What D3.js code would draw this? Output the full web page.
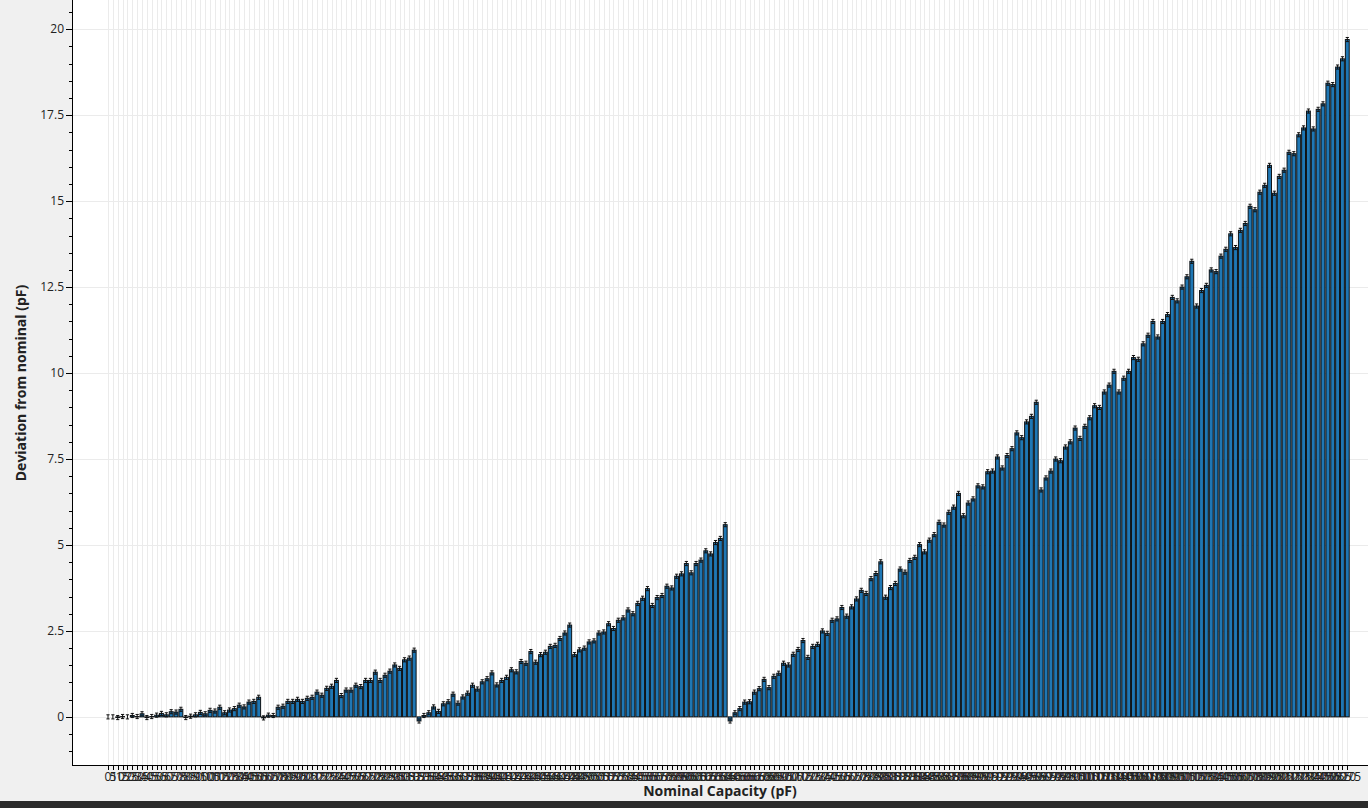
<!DOCTYPE html>
<html>
<head>
<meta charset="utf-8">
<script src="https://cdn.jsdelivr.net/npm/d3@7"></script>
<style>
  html, body { margin: 0; padding: 0; background: #f0f0f0; }
  svg { display: block; }
  text { font-family: "Open Sans", "Noto Sans", sans-serif; }
</style>
</head>
<body>
<svg id="chart"></svg>
<script>
// nominal capacity for each code (pF)
var capacities = d3.range(0, 1280, 5);

// measured deviation from nominal (pF), one block per binary segment
var seg1 = [0, 0, -0.02, 0.01, 0, 0.04, 0.01, 0.09, -0.02, 0.01, 0.05, 0.1, 0.06, 0.15, 0.14, 0.22,
  -0.02, 0.02, 0.06, 0.13, 0.09, 0.19, 0.17, 0.28, 0.12, 0.2, 0.24, 0.34, 0.29, 0.43, 0.45, 0.57];
var seg2 = [-0.03, 0.05, 0.04, 0.28, 0.31, 0.45, 0.45, 0.51, 0.45, 0.54, 0.57, 0.72, 0.63, 0.83, 0.89, 1.06,
  0.62, 0.78, 0.78, 0.92, 0.88, 1.06, 1.06, 1.3, 1.06, 1.21, 1.33, 1.51, 1.41, 1.66, 1.71, 1.94];
var seg3 = [-0.12, 0.04, 0.12, 0.29, 0.16, 0.38, 0.44, 0.66, 0.4, 0.58, 0.69, 0.92, 0.81, 1.02, 1.11, 1.28,
  0.93, 1.06, 1.15, 1.37, 1.31, 1.61, 1.56, 1.9, 1.59, 1.81, 1.88, 2.05, 2.08, 2.28, 2.44, 2.67,
  1.81, 1.95, 2.0, 2.18, 2.21, 2.44, 2.47, 2.71, 2.57, 2.81, 2.88, 3.11, 3.0, 3.3, 3.45, 3.73,
  3.24, 3.47, 3.53, 3.8, 3.75, 4.09, 4.16, 4.46, 4.19, 4.46, 4.56, 4.83, 4.74, 5.07, 5.19, 5.59];
var seg4 = [-0.12, 0.12, 0.24, 0.43, 0.44, 0.72, 0.82, 1.09, 0.85, 1.18, 1.27, 1.56, 1.51, 1.82, 1.96, 2.22,
  1.73, 2.05, 2.11, 2.5, 2.43, 2.81, 2.85, 3.18, 2.93, 3.2, 3.43, 3.68, 3.59, 4.02, 4.17, 4.51,
  3.48, 3.76, 3.88, 4.3, 4.21, 4.55, 4.64, 5.01, 4.8, 5.14, 5.3, 5.66, 5.58, 5.95, 6.1, 6.5,
  5.85, 6.22, 6.34, 6.72, 6.69, 7.13, 7.15, 7.56, 7.24, 7.6, 7.8, 8.26, 8.12, 8.58, 8.74, 9.15,
  6.6, 6.95, 7.15, 7.5, 7.45, 7.85, 8.0, 8.4, 8.1, 8.45, 8.7, 9.05, 9.0, 9.45, 9.65, 10.05,
  9.45, 9.85, 10.05, 10.45, 10.4, 10.85, 11.1, 11.5, 11.05, 11.5, 11.7, 12.2, 12.1, 12.5, 12.8, 13.25,
  11.95, 12.4, 12.55, 13.0, 12.95, 13.4, 13.6, 14.05, 13.65, 14.15, 14.35, 14.85, 14.75, 15.26, 15.46, 16.04,
  15.23, 15.72, 15.9, 16.42, 16.38, 16.93, 17.13, 17.62, 17.1, 17.67, 17.83, 18.43, 18.39, 18.9, 19.14, 19.7];
var deviations = seg1.concat(seg2, seg3, seg4);
var errHalf = 0.06;

var yTicks = [0, 2.5, 5, 7.5, 10, 12.5, 15, 17.5, 20];

var W = 1368, H = 808;
var plot = {left: 72, right: 1368, top: 0, bottom: 765};

var svg = d3.select('#chart').attr('width', W).attr('height', H);

// backgrounds
svg.append('rect').attr('width', W).attr('height', H).attr('fill', '#f0f0f0');
svg.append('rect')
  .attr('x', plot.left).attr('y', plot.top)
  .attr('width', plot.right - plot.left).attr('height', plot.bottom - plot.top)
  .attr('fill', '#fff');
svg.append('rect').attr('x', 0).attr('y', 801).attr('width', W).attr('height', 7).attr('fill', '#2b2b2b');

var data = capacities.map(function (c, i) { return {cap: c, dev: deviations[i]}; });

var x = d3.scaleBand()
  .domain(capacities)
  .range([105.57, 105.57 + 4.86 * capacities.length])
  .paddingInner(0.2)
  .paddingOuter(0.1);

var y = d3.scaleLinear().domain([-1.4, 20.85]).range([plot.bottom, plot.top]);

// grid
var grid = svg.append('g');
grid.selectAll('line.vg')
  .data(capacities)
  .enter().append('line')
  .attr('class', 'vg')
  .attr('x1', function (d) { return Math.round(x(d) + x.bandwidth() / 2) + 0.5; })
  .attr('x2', function (d) { return Math.round(x(d) + x.bandwidth() / 2) + 0.5; })
  .attr('y1', plot.top).attr('y2', plot.bottom)
  .attr('stroke', '#ebebeb').attr('stroke-width', 1);
grid.selectAll('line.hg')
  .data(yTicks)
  .enter().append('line')
  .attr('class', 'hg')
  .attr('x1', plot.left).attr('x2', plot.right)
  .attr('y1', function (d) { return Math.round(y(d)) + 0.5; })
  .attr('y2', function (d) { return Math.round(y(d)) + 0.5; })
  .attr('stroke', '#ebebeb').attr('stroke-width', 1);

// bars
svg.append('g').selectAll('rect')
  .data(data)
  .enter().append('rect')
  .attr('x', function (d) { return x(d.cap); })
  .attr('width', x.bandwidth())
  .attr('y', function (d) { return Math.min(y(d.dev), y(0)); })
  .attr('height', function (d) { return Math.abs(y(d.dev) - y(0)); })
  .attr('fill', '#1f77b4')
  .attr('stroke', '#000')
  .attr('stroke-opacity', 0.9)
  .attr('stroke-width', 1);

// error bars
var eb = svg.append('g').attr('stroke', '#111').attr('stroke-width', 1);
data.forEach(function (d) {
  var cx = x(d.cap) + x.bandwidth() / 2;
  var y1 = y(d.dev + errHalf), y2 = y(d.dev - errHalf);
  eb.append('line').attr('x1', cx).attr('x2', cx).attr('y1', y1).attr('y2', y2);
  eb.append('line').attr('x1', cx - 1.6).attr('x2', cx + 1.6).attr('y1', y1).attr('y2', y1);
  eb.append('line').attr('x1', cx - 1.6).attr('x2', cx + 1.6).attr('y1', y2).attr('y2', y2);
});

// y axis
var yAxis = svg.append('g').attr('transform', 'translate(' + plot.left + ',0)');
yAxis.append('line').attr('x1', 0.5).attr('x2', 0.5).attr('y1', plot.top).attr('y2', plot.bottom)
  .attr('stroke', '#000');
var minor = d3.range(-1, 20.9, 0.5).filter(function (v) { return yTicks.indexOf(v) < 0; });
yAxis.selectAll('line.minor').data(minor).enter().append('line')
  .attr('x1', -3).attr('x2', 0)
  .attr('y1', function (d) { return Math.round(y(d)) + 0.5; })
  .attr('y2', function (d) { return Math.round(y(d)) + 0.5; })
  .attr('stroke', '#000');
yAxis.selectAll('line.major').data(yTicks).enter().append('line')
  .attr('x1', -6).attr('x2', 0)
  .attr('y1', function (d) { return Math.round(y(d)) + 0.5; })
  .attr('y2', function (d) { return Math.round(y(d)) + 0.5; })
  .attr('stroke', '#000');
yAxis.selectAll('text').data(yTicks).enter().append('text')
  .attr('x', -8).attr('y', function (d) { return y(d); })
  .attr('dy', '0.35em').attr('text-anchor', 'end')
  .attr('font-size', 12).attr('fill', '#222')
  .text(function (d) { return d; });

// x axis
var xAxis = svg.append('g');
xAxis.append('line').attr('x1', plot.left).attr('x2', plot.right)
  .attr('y1', plot.bottom + 0.5).attr('y2', plot.bottom + 0.5).attr('stroke', '#000');
xAxis.selectAll('line.t').data(capacities).enter().append('line')
  .attr('x1', function (d) { return Math.round(x(d) + x.bandwidth() / 2) + 0.5; })
  .attr('x2', function (d) { return Math.round(x(d) + x.bandwidth() / 2) + 0.5; })
  .attr('y1', plot.bottom).attr('y2', plot.bottom + 5)
  .attr('stroke', '#000');
xAxis.selectAll('text').data(capacities).enter().append('text')
  .attr('x', function (d) { return x(d) + x.bandwidth() / 2; })
  .attr('y', plot.bottom + 12).attr('dy', '0.35em')
  .attr('text-anchor', 'middle').attr('font-size', 12).attr('fill', '#222')
  .text(function (d) { return d; });

// titles
svg.append('text')
  .attr('x', 720).attr('y', 796)
  .attr('text-anchor', 'middle').attr('font-size', 14).attr('font-weight', 'bold').attr('fill', '#222')
  .text('Nominal Capacity (pF)');
svg.append('text')
  .attr('transform', 'translate(26,383) rotate(-90)')
  .attr('text-anchor', 'middle').attr('font-size', 14).attr('font-weight', 'bold').attr('fill', '#222')
  .text('Deviation from nominal (pF)');
</script>
</body>
</html>
